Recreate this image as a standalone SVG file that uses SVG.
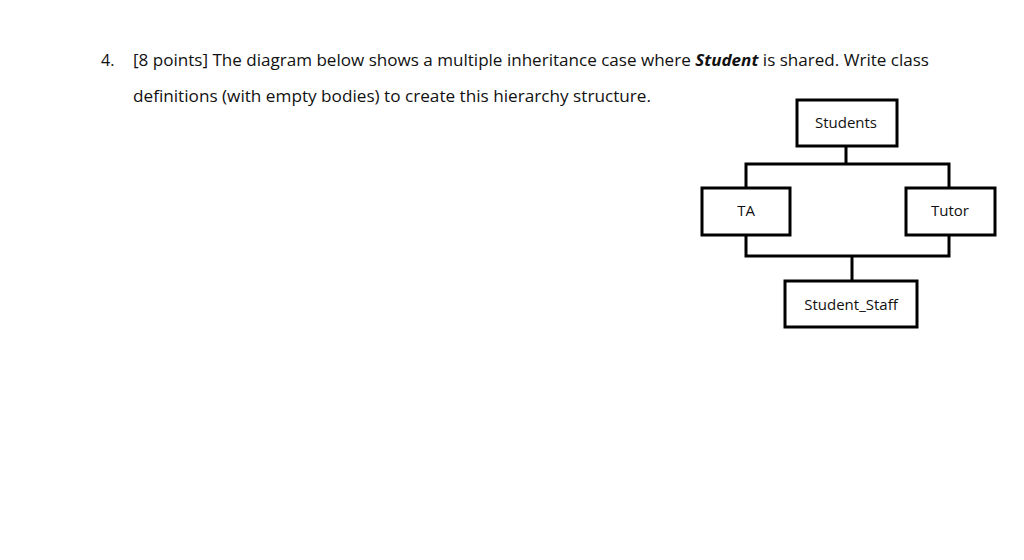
<svg xmlns="http://www.w3.org/2000/svg" width="1024" height="560" viewBox="0 0 1024 560">
<style>
.t{font-family:"Open Sans","Liberation Sans",sans-serif;font-size:16px;fill:#111}
.l{font-family:"Open Sans","Liberation Sans",sans-serif;font-size:15px;fill:#111;text-anchor:middle}
.b{fill:#fff;stroke:#000;stroke-width:3}
.c{fill:none;stroke:#000;stroke-width:3}
</style>
<rect width="1024" height="560" fill="#fff"/>
<text class="t" x="101" y="66">4.</text>
<text class="t" x="133" y="66" textLength="796" lengthAdjust="spacingAndGlyphs">[8 points] The diagram below shows a multiple inheritance case where <tspan font-weight="bold" font-style="italic">Student</tspan> is shared. Write class</text>
<text class="t" x="133" y="102" textLength="518" lengthAdjust="spacingAndGlyphs">definitions (with empty bodies) to create this hierarchy structure.</text>
<g id="connectors">
<path class="c" d="M846 146V164M746 187V164H949V187"/>
<path class="c" d="M746 235V256H949V235M852 256V280"/>
</g>
<g id="students"><rect class="b" x="797" y="100" width="100" height="46"/><text class="l" x="846" y="128">Students</text></g>
<g id="ta"><rect class="b" x="702" y="188" width="88" height="47"/><text class="l" x="746" y="216">TA</text></g>
<g id="tutor"><rect class="b" x="906" y="188" width="89" height="47"/><text class="l" x="950" y="216">Tutor</text></g>
<g id="student_staff"><rect class="b" x="785" y="281" width="132" height="46"/><text class="l" x="851" y="310">Student_Staff</text></g>
</svg>
